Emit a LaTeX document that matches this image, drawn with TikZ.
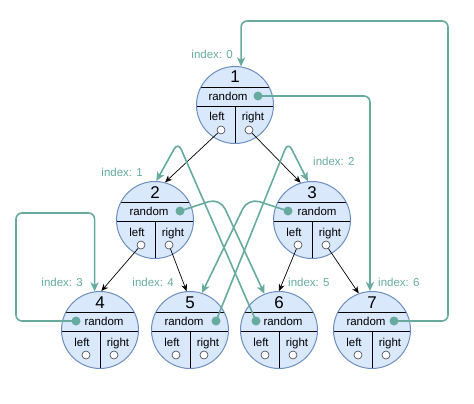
\documentclass[tikz,border=0pt]{standalone}
\usepackage{fontspec}
\setmainfont{Liberation Sans}
\usetikzlibrary{arrows.meta, positioning}

\definecolor{nodefill}{HTML}{DAE8FC}
\definecolor{nodeline}{HTML}{6C8EBF}
\definecolor{ptrgreen}{HTML}{67AB9F}

\tikzset{
  tree/.style={circle, draw=nodeline, fill=nodefill, line width=1pt, minimum size=77pt, inner sep=0pt},
  hole/.style={circle, draw=black!75, fill=white, line width=0.6pt, minimum size=8pt, inner sep=0pt},
  rdot/.style={circle, fill=ptrgreen, minimum size=9pt, inner sep=0pt},
  txt/.style={inner sep=0pt, anchor=base, font=\fontsize{11.5pt}{12pt}\selectfont},
  num/.style={inner sep=0pt, anchor=base, font=\fontsize{17pt}{17pt}\selectfont},
  idx/.style={inner sep=0pt, text=ptrgreen, font=\fontsize{11.5pt}{12pt}\selectfont},
  child/.style={-{Stealth[length=7pt,width=6pt]}, line width=0.7pt},
  ptr/.style={draw=ptrgreen, line width=1.6pt, rounded corners=6pt, -{Stealth[length=9pt,width=8pt,inset=2.5pt]}},
}

% #1 name, #2 centre, #3 number, #4 x of the dot, #5 x of "random"
\newcommand{\treenode}[5]{
  \node[tree] (#1) at (#2) {};
  \begin{scope}[shift={(#1.center)}]
    \begin{scope}
      \clip (0,0) circle (38pt);
      \draw[line width=0.8pt] (-40,-18) -- (40,-18);
      \draw[line width=0.8pt] (-40,1) -- (40,1);
      \draw[line width=0.8pt] (0,1) -- (0,40);
    \end{scope}
    \node[num] (#1-num) at (0,-22) {#3};
    \node[txt] (#1-rnd) at (#5,-5) {random};
    \node[rdot] (#1-r) at (#4,-9) {};
    \node[txt] (#1-lt) at (-18,16) {left};
    \node[txt] (#1-rt) at (18,16) {right};
    \node[hole] (#1-hl) at (-14,25) {};
    \node[hole] (#1-hr) at (14,25) {};
  \end{scope}
}

\begin{document}
\begin{tikzpicture}[x=1pt, y=-1pt]
  \useasboundingbox (0,0) rectangle (474,404);

  %n1
  \treenode{n1}{235,105}{1}{23}{-7}
  %n2
  \treenode{n2}{155,220}{2}{25}{-6}
  %n3
  \treenode{n3}{312,220}{3}{-24}{5}
  %n4
  \treenode{n4}{100,330}{4}{-24}{4}
  %n5
  \treenode{n5}{190,330}{5}{26}{-6}
  %n6
  \treenode{n6}{279,330}{6}{-23}{4}
  %n7
  \treenode{n7}{372,330}{7}{22}{-6}

  % index labels
  \node[idx, anchor=base east] (i0) at (233,59) {index: 0};
  \node[idx, anchor=base east] (i1) at (143,176) {index: 1};
  \node[idx, anchor=base west] (i2) at (313,165) {index: 2};
  \node[idx, anchor=base east] (i3) at (83,286) {index: 3};
  \node[idx, anchor=base east] (i4) at (174,286) {index: 4};
  \node[idx, anchor=base west] (i5) at (288,286) {index: 5};
  \node[idx, anchor=base west] (i6) at (378,286) {index: 6};

  % left / right children
  \draw[child] (n1-hl) -- (n2.75);
  \draw[child] (n1-hr) -- (n3.107);
  \draw[child] (n2-hl) -- (n4.88);
  \draw[child] (n2-hr) -- (n5.95);
  \draw[child] (n3-hl) -- (n6.90);
  \draw[child] (n3-hr) -- (n7.110);

  % random pointers
  \draw[ptr] (n1-r.center) -| (n7.93);

  \coordinate (c7) at (448,21);
  \draw[ptr] (n7-r.center) -| (c7) -| (n1.81);

  \coordinate (c4) at (16,213);
  \draw[ptr] (n4-r.center) -| (c4) -| (n4.98);

  \coordinate (w2) at (220,198);
  \draw[ptr, rounded corners=12pt] (n2-r.center) -- (w2) -- (n6.112);

  \coordinate (w3) at (248,198);
  \draw[ptr, rounded corners=12pt] (n3-r.center) -- (w3) -- (n5.72);

  \coordinate (w5) at (288,142);
  \draw[ptr, rounded corners=8pt] (n5-r.center) -- (w5) -- (n3.96);

  \coordinate (w6) at (178,142);
  \draw[ptr, rounded corners=8pt] (n6-r.center) -- (w6) -- (n2.88);

\end{tikzpicture}
\end{document}
